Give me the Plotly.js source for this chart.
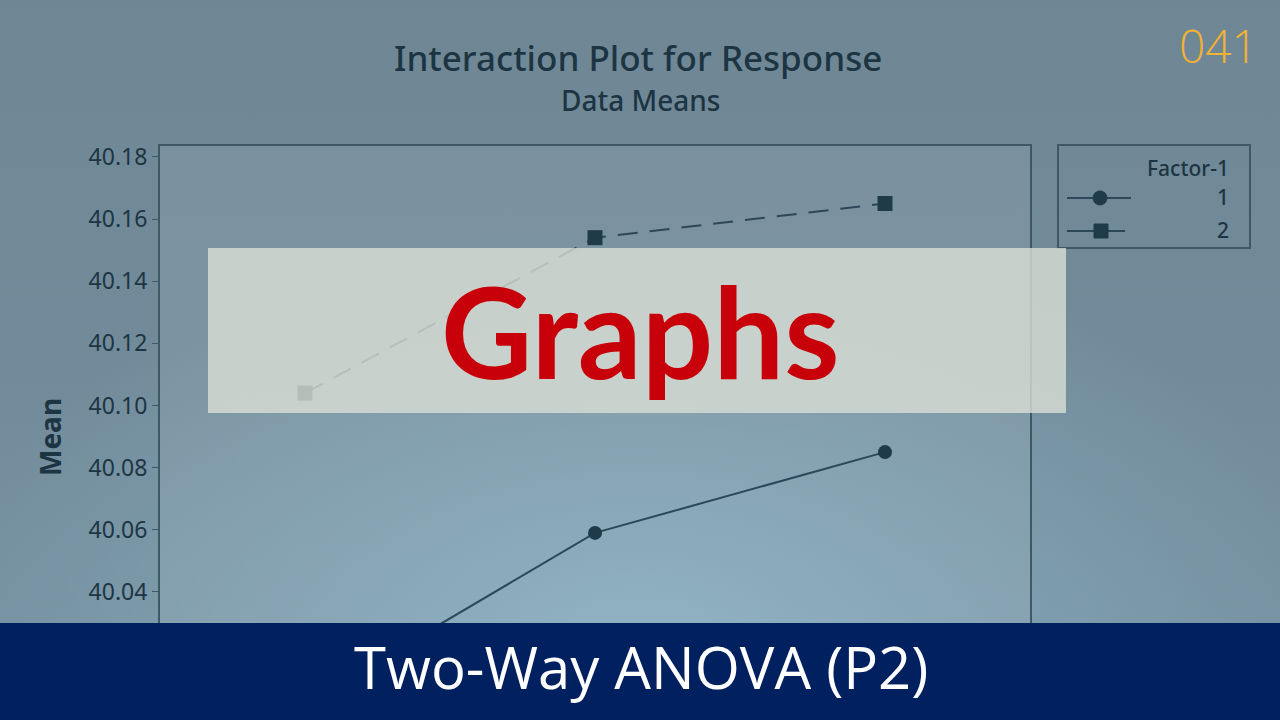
<!DOCTYPE html>
<html>
<head>
<meta charset="utf-8">
<script src="https://cdn.plot.ly/plotly-3.0.1.min.js"></script>
<style>
html,body{margin:0;padding:0;width:1280px;height:720px;overflow:hidden;}
body{background:
  radial-gradient(ellipse 700px 420px at 640px 640px, rgba(150,195,215,0.55) 0%, rgba(150,195,215,0) 100%),
  linear-gradient(180deg,#6f8795 0%,#728b9a 50%,#7893a3 100%);}
#chart{width:1280px;height:720px;}
</style>
</head>
<body>
<div id="chart"></div>
<script>
// Data
const factor2Levels = [1, 2, 3];
const meansFactor1Level1 = [40.004, 40.059, 40.085];
const meansFactor1Level2 = [40.104, 40.154, 40.165];
const yTickValues = [40.04, 40.06, 40.08, 40.10, 40.12, 40.14, 40.16, 40.18];
const legendTitle = "Factor-1";
const legendNames = ["1", "2"];

const W = 1280, H = 720;
const L = 160, R = 1030, T = 146, B = 720;
const px = x => (x - L) / (R - L);
const py = y => (B - y) / (B - T);

const dark = "#1f3a48";
const lineC = "#2c4858";
const textC = "#1d3542";

const traces = [
  {x: factor2Levels, y: meansFactor1Level1, name: legendNames[0], mode: "lines+markers",
   line: {color: lineC, width: 2}, marker: {symbol: "circle", size: 14, color: dark}},
  {x: factor2Levels, y: meansFactor1Level2, name: legendNames[1], mode: "lines+markers",
   line: {color: lineC, width: 2, dash: "20px,12px"}, marker: {symbol: "square", size: 15, color: dark}}
];

const shapes = [
  // legend box
  {type: "rect", xref: "paper", yref: "paper", x0: px(1058), x1: px(1250), y0: py(145), y1: py(248),
   line: {color: "#3f5866", width: 2}, fillcolor: "rgba(0,0,0,0)", layer: "above"},
  {type: "line", xref: "paper", yref: "paper", x0: px(1067), x1: px(1131), y0: py(198), y1: py(198),
   line: {color: lineC, width: 2}, layer: "above"},
  {type: "circle", xref: "paper", yref: "paper", x0: px(1093), x1: px(1107), y0: py(191), y1: py(205),
   line: {color: dark, width: 1}, fillcolor: dark, layer: "above"},
  {type: "line", xref: "paper", yref: "paper", x0: px(1067), x1: px(1125), y0: py(231), y1: py(231),
   line: {color: lineC, width: 2}, layer: "above"},
  {type: "rect", xref: "paper", yref: "paper", x0: px(1094), x1: px(1108), y0: py(224), y1: py(238),
   line: {color: dark, width: 1}, fillcolor: dark, layer: "above"},
  // overlay card
  {type: "rect", xref: "paper", yref: "paper", x0: px(208), x1: px(1066), y0: py(248), y1: py(413),
   line: {width: 0}, fillcolor: "rgba(218,222,212,0.8)", layer: "above"},
  // bottom banner
  {type: "rect", xref: "paper", yref: "paper", x0: px(0), x1: px(1280), y0: py(623), y1: py(720),
   line: {width: 0}, fillcolor: "#002060", layer: "above"}
];

const annotations = [
  {text: "Interaction Plot for Response", xref: "paper", yref: "paper", x: px(638), y: py(57),
   showarrow: false, font: {family: "Noto Sans", size: 35, color: textC, weight: 500}, xanchor: "center", yanchor: "middle"},
  {text: "Data Means", xref: "paper", yref: "paper", x: px(640), y: py(100),
   showarrow: false, font: {family: "Noto Sans", size: 28, color: textC, weight: 500}, xanchor: "center", yanchor: "middle"},
  {text: "041", xref: "paper", yref: "paper", x: px(1260), y: py(45),
   showarrow: false, font: {family: "Open Sans", size: 46, color: "#f2b233", weight: 300}, xanchor: "right", yanchor: "middle"},
  {text: "<b>Mean</b>", xref: "paper", yref: "paper", x: px(50), y: py(437), textangle: -90,
   showarrow: false, font: {family: "Noto Sans", size: 28, color: textC}, xanchor: "center", yanchor: "middle"},
  {text: legendTitle, xref: "paper", yref: "paper", x: px(1231), y: py(168),
   showarrow: false, font: {family: "Noto Sans", size: 21, color: textC, weight: 500}, xanchor: "right", yanchor: "middle"},
  {text: legendNames[0], xref: "paper", yref: "paper", x: px(1231), y: py(197),
   showarrow: false, font: {family: "Noto Sans", size: 21, color: textC, weight: 500}, xanchor: "right", yanchor: "middle"},
  {text: legendNames[1], xref: "paper", yref: "paper", x: px(1231), y: py(230),
   showarrow: false, font: {family: "Noto Sans", size: 21, color: textC, weight: 500}, xanchor: "right", yanchor: "middle"},
  {text: "<b>Graphs</b>", xref: "paper", yref: "paper", x: px(640), y: py(330),
   showarrow: false, font: {family: "Lato", size: 126, color: "#c8000a"}, xanchor: "center", yanchor: "middle"},
  {text: "Two-Way ANOVA (P2)", xref: "paper", yref: "paper", x: px(641), y: py(666),
   showarrow: false, font: {family: "Open Sans", size: 58, color: "#ffffff", weight: 400}, xanchor: "center", yanchor: "middle"}
];

const layout = {
  width: W, height: H,
  margin: {l: L, r: W - R, t: T, b: H - B, pad: 0},
  paper_bgcolor: "rgba(0,0,0,0)",
  plot_bgcolor: "rgba(255,255,255,0.07)",
  showlegend: false,
  xaxis: {range: [0.5, 3.5], tickvals: factor2Levels, showgrid: false, zeroline: false,
          showline: true, mirror: true, linecolor: "#3f5866", linewidth: 2,
          ticks: "", showticklabels: false},
  yaxis: {range: [39.9988, 40.1835], tickvals: yTickValues, tickformat: ".2f", showgrid: false, zeroline: false,
          showline: true, mirror: true, linecolor: "#3f5866", linewidth: 2,
          ticks: "outside", ticklen: 6, tickcolor: "#3f5866",
          tickfont: {family: "Noto Sans", size: 23, color: textC}},
  shapes: shapes,
  annotations: annotations
};

Plotly.newPlot("chart", traces, layout, {staticPlot: true, displayModeBar: false});
</script>
</body>
</html>
